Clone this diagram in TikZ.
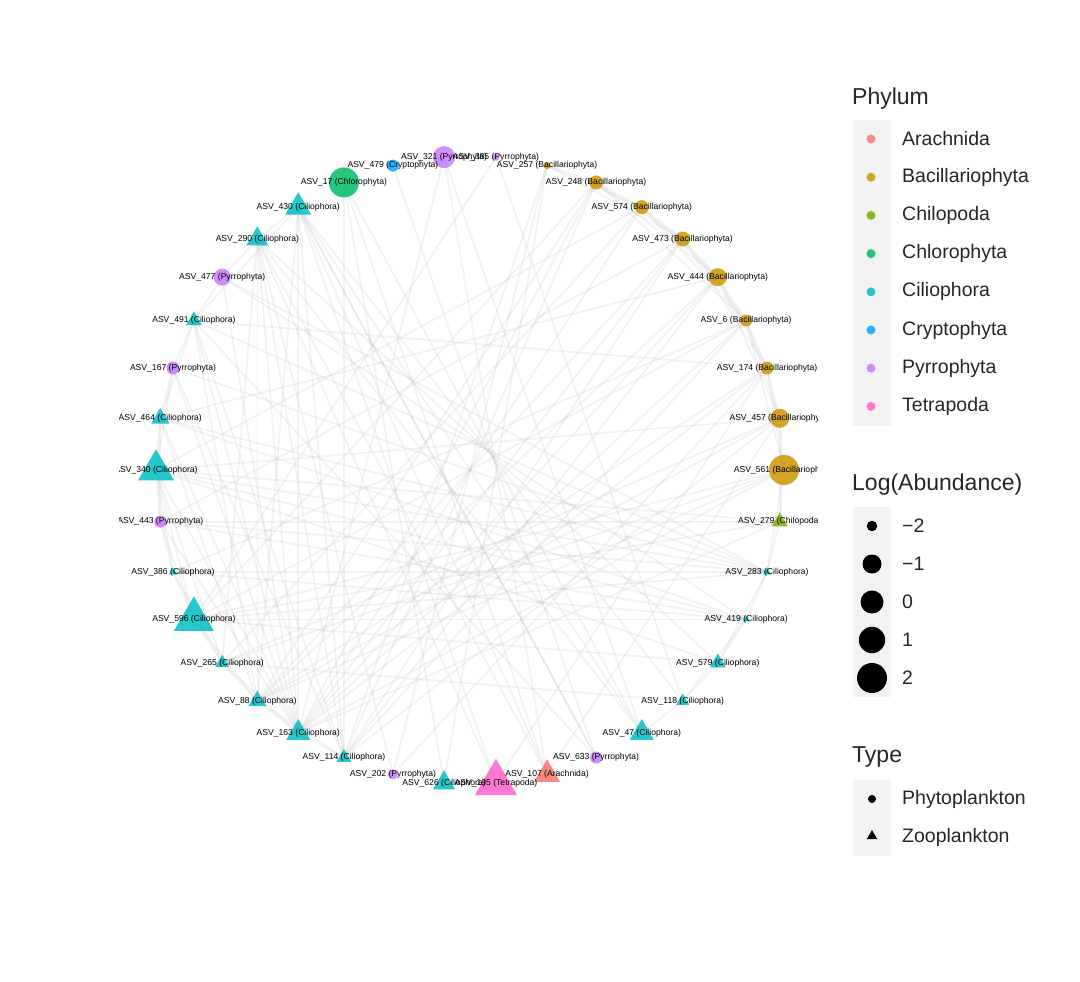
\documentclass[tikz,border=0pt]{standalone}
\usepackage{fontspec}
\setmainfont{Liberation Sans}
\usetikzlibrary{shapes.geometric}
\pgfdeclarelayer{bg}
\pgfdeclarelayer{edges}
\pgfsetlayers{bg,edges,main}
\definecolor{cAra}{HTML}{F8766D}
\definecolor{cBac}{HTML}{CD9600}
\definecolor{cChi}{HTML}{7CAE00}
\definecolor{cChl}{HTML}{00BE67}
\definecolor{cCil}{HTML}{00BFC4}
\definecolor{cCry}{HTML}{00A9FF}
\definecolor{cPyr}{HTML}{C77CFF}
\definecolor{cTet}{HTML}{FF61CC}
\definecolor{keybg}{HTML}{F2F2F2}
\definecolor{edgecol}{HTML}{B4B4B4}
\begin{document}
\begin{tikzpicture}[x=1pt,y=1pt,
  circ/.style={circle, fill=#1, fill opacity=0.85, draw=none, inner sep=0pt, outer sep=0pt},
  tri/.style={regular polygon, regular polygon sides=3, fill=#1, fill opacity=0.85, draw=none, inner sep=0pt, outer sep=0pt},
  lab/.style={font=\fontsize{8.6}{9}\selectfont, text=black, inner sep=0pt},
  edge/.style={draw=edgecol, draw opacity=0.17, line width=1.7pt},
  legtitle/.style={font=\fontsize{23}{26}\selectfont, text=black!85, anchor=west, inner sep=0pt},
  legtext/.style={font=\fontsize{19.5}{22}\selectfont, text=black!85, anchor=west, inner sep=0pt},
  key/.style={circle, fill=#1, fill opacity=0.85, draw=none, inner sep=0pt, minimum size=9pt},
  blk/.style={circle, fill=black, draw=none, inner sep=0pt},
]
\useasboundingbox (0,0) rectangle (1080,-982);
\begin{pgfonlayer}{bg}
\fill[white] (0,0) rectangle (1080,-982);
\end{pgfonlayer}

\begin{scope}[shift={(470,-470)}]
% ---- nodes: left half
\node[circ=cPyr, minimum size=22pt] (n321) at (94.74:314) {};
\node[circ=cCry, minimum size=12pt] (n479) at (104.21:314) {};
\node[circ=cChl, minimum size=30pt] (n17) at (113.68:314) {};
\node[tri=cCil, minimum size=30pt] (n430) at (123.16:314) {};
\node[tri=cCil, minimum size=25.4pt] (n290) at (132.63:314) {};
\node[circ=cPyr, minimum size=17pt] (n477) at (142.11:314) {};
\node[tri=cCil, minimum size=18.5pt] (n491) at (151.58:314) {};
\node[circ=cPyr, minimum size=13pt] (n167) at (161.05:314) {};
\node[tri=cCil, minimum size=20.8pt] (n464) at (170.53:314) {};
\node[tri=cCil, minimum size=41.6pt] (n340) at (180:314) {};
\node[circ=cPyr, minimum size=12pt] (n443) at (189.47:314) {};
\node[tri=cCil, minimum size=9.2pt] (n386) at (198.95:314) {};
\node[tri=cCil, minimum size=46.2pt] (n596) at (208.42:314) {};
\node[tri=cCil, minimum size=16.2pt] (n265) at (217.89:314) {};
\node[tri=cCil, minimum size=20.8pt] (n88) at (227.37:314) {};
\node[tri=cCil, minimum size=27.7pt] (n163) at (236.84:314) {};
\node[tri=cCil, minimum size=17.3pt] (n114) at (246.32:314) {};
\node[circ=cPyr, minimum size=10pt] (n202) at (255.79:314) {};
\node[tri=cCil, minimum size=25.4pt] (n626) at (265.26:314) {};
% ---- nodes: right half
\node[circ=cPyr, minimum size=7pt] (n385) at (85.26:314) {};
\node[circ=cBac, minimum size=7pt] (n257) at (75.79:314) {};
\node[circ=cBac, minimum size=14pt] (n248) at (66.32:314) {};
\node[circ=cBac, minimum size=14pt] (n574) at (56.84:314) {};
\node[circ=cBac, minimum size=15pt] (n473) at (47.37:314) {};
\node[circ=cBac, minimum size=18pt] (n444) at (37.89:314) {};
\node[circ=cBac, minimum size=12pt] (n6) at (28.42:314) {};
\node[circ=cBac, minimum size=13pt] (n174) at (18.95:314) {};
\node[circ=cBac, minimum size=19pt] (n457) at (9.47:314) {};
\node[circ=cBac, minimum size=30pt] (n561) at (0:314) {};
\node[tri=cChi, minimum size=18.5pt] (n279) at (-9.47:314) {};
\node[tri=cCil, minimum size=9.2pt] (n283) at (-18.95:314) {};
\node[tri=cCil, minimum size=8.1pt] (n419) at (-28.42:314) {};
\node[tri=cCil, minimum size=18.5pt] (n579) at (-37.89:314) {};
\node[tri=cCil, minimum size=15pt] (n118) at (-47.37:314) {};
\node[tri=cCil, minimum size=27.7pt] (n47) at (-56.84:314) {};
\node[circ=cPyr, minimum size=12pt] (n633) at (-66.32:314) {};
\node[tri=cAra, minimum size=30pt] (n107) at (-75.79:314) {};
\node[tri=cTet, minimum size=48.5pt] (n195) at (-85.26:314) {};

% ---- edges
\begin{pgfonlayer}{edges}
\foreach \a/\b in {
 257/248, 257/574, 248/574, 248/473, 574/473, 574/444, 473/444, 473/6, 444/6, 444/174,
 6/174, 6/457, 174/457, 174/561, 457/561, 457/279, 561/279, 561/283, 248/444, 574/6,
 473/174, 444/457, 6/561, 257/473, 248/6,
 491/167, 167/464, 464/340, 340/443, 443/386, 386/596, 596/265, 265/88, 88/163, 163/114,
 290/430, 430/491, 290/477, 477/491, 491/464, 167/340, 464/443, 340/386, 443/596, 386/265,
 596/88, 265/163, 88/114,
 279/283, 283/419, 419/579, 579/118, 118/47, 283/579, 419/118,
 248/163, 248/114, 248/88, 248/596, 574/163, 574/265, 574/340, 473/114, 473/163, 473/443,
 444/88, 444/163, 444/464, 6/114, 6/386, 6/596, 174/163, 174/491, 174/202, 457/88,
 457/340, 457/114, 561/596, 561/163, 561/265, 257/114, 257/626, 257/202,
 430/163, 430/114, 430/88, 430/633, 430/107, 290/163, 290/114, 290/265, 290/88, 290/202,
 491/163, 491/114, 491/88,
 283/340, 283/464, 283/443, 283/386, 283/596, 283/491, 283/167,
 419/340, 419/443, 419/596, 419/386, 419/477, 419/464,
 579/596, 579/340, 579/290, 118/430, 118/265, 47/430, 47/290, 47/17,
 17/114, 17/626, 17/107, 321/107, 321/47, 321/163, 385/596, 385/118, 479/633,
 477/283, 477/163, 167/163, 167/114, 464/163, 464/88, 340/596, 340/265, 340/163, 443/163,
 195/290, 195/430, 195/174, 107/290, 107/457, 633/491, 633/430,
 279/340, 279/443, 279/596, 279/163, 561/88, 457/265, 174/88, 6/163, 444/114, 473/88}
 \draw[edge] (n\a.center) -- (n\b.center);
\end{pgfonlayer}

% ---- labels (clipped to the panel)
\begin{scope}
\clip (-351,-360) rectangle (347,360);
\foreach \n/\t in {321/Pyrrophyta, 479/Cryptophyta, 17/Chlorophyta, 430/Ciliophora, 290/Ciliophora,
  477/Pyrrophyta, 491/Ciliophora, 167/Pyrrophyta, 464/Ciliophora, 340/Ciliophora,
  443/Pyrrophyta, 386/Ciliophora, 596/Ciliophora, 265/Ciliophora, 88/Ciliophora,
  163/Ciliophora, 114/Ciliophora, 202/Pyrrophyta, 626/Ciliophora,
  385/Pyrrophyta, 257/Bacillariophyta, 248/Bacillariophyta, 574/Bacillariophyta,
  473/Bacillariophyta, 444/Bacillariophyta, 6/Bacillariophyta, 174/Bacillariophyta,
  457/Bacillariophyta, 561/Bacillariophyta, 279/Chilopoda, 283/Ciliophora, 419/Ciliophora,
  579/Ciliophora, 118/Ciliophora, 47/Ciliophora, 633/Pyrrophyta, 107/Arachnida, 195/Tetrapoda}
  \node[lab] (l\n) at (n\n) {ASV\_\n\ (\t)};
\end{scope}
\end{scope}

% ---- legend: Phylum
\node[legtitle] (tphy) at (852,-99) {Phylum};
\fill[keybg] (853,-120) rectangle (891,-426);
\foreach \i/\c/\t in {0/cAra/Arachnida, 1/cBac/Bacillariophyta, 2/cChi/Chilopoda, 3/cChl/Chlorophyta,
  4/cCil/Ciliophora, 5/cCry/Cryptophyta, 6/cPyr/Pyrrophyta, 7/cTet/Tetrapoda}{
  \node[key=\c] (kp\i) at (871,{-139-38.2*\i}) {};
  \node[legtext] (tp\i) at (902,{-139-38.2*\i}) {\t};
}

% ---- legend: Log(Abundance)
\node[legtitle] (tab) at (852,-485) {Log(Abundance)};
\fill[keybg] (853,-507) rectangle (891,-697);
\foreach \i/\s/\t in {0/10.5/−2, 1/19/−1, 2/23/0, 3/26.5/1, 4/30/2}{
  \node[blk, minimum size=\s pt] (ka\i) at (872,{-526-38*\i}) {};
  \node[legtext] (ta\i) at (902,{-526-38*\i}) {\t};
}

% ---- legend: Type
\node[legtitle] (tty) at (852,-757) {Type};
\fill[keybg] (853,-780) rectangle (891,-856);
\node[blk, minimum size=8pt] (kt0) at (872,-799) {};
\node[legtext] (tt0) at (902,-799) {Phytoplankton};
\node[regular polygon, regular polygon sides=3, fill=black, inner sep=0pt, minimum size=12pt] (kt1) at (872,-836) {};
\node[legtext] (tt1) at (902,-837) {Zooplankton};
\end{tikzpicture}
\end{document}
